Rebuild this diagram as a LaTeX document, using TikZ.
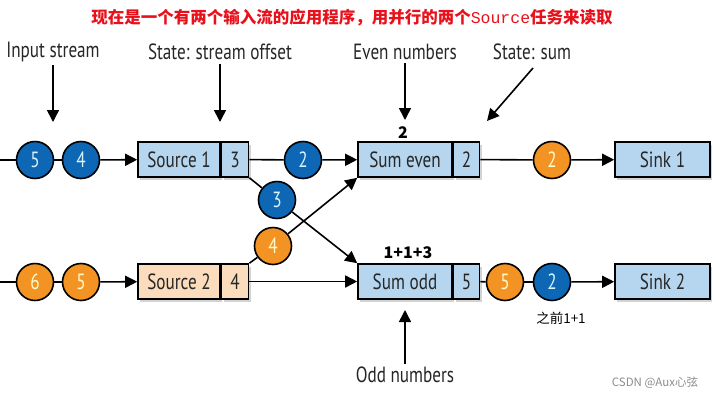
\documentclass[tikz,border=0pt]{standalone}
\usepackage{fontspec}
\setmainfont{Liberation Sans}
\newfontfamily\condfont[FakeStretch=0.78]{PT Sans}
\newfontfamily\cjk{Noto Sans CJK SC}
\newfontfamily\titlemono{Liberation Mono}
\usetikzlibrary{positioning,calc,arrows.meta,shadows}

\definecolor{flowblue}{HTML}{0E67B4}
\definecolor{floworange}{HTML}{F39324}
\definecolor{boxblue}{HTML}{B5D6EE}
\definecolor{boxpeach}{HTML}{FBDDBD}
\definecolor{titlered}{HTML}{E8101A}

\tikzset{
  opbox/.style={draw,line width=1.6pt,fill=boxblue,minimum height=35pt,inner sep=0pt,
    font=\condfont\fontsize{22}{22}\selectfont,text=black!85,
    drop shadow={shadow xshift=2pt,shadow yshift=-3pt,opacity=0.35}},
  evt/.style={circle,draw,line width=1.6pt,minimum size=37pt,inner sep=0pt,
    font=\condfont\fontsize{22}{22}\selectfont},
  blueevt/.style={evt,fill=flowblue,text=cyan!15},
  orangeevt/.style={evt,fill=floworange,text=yellow!20},
  lbl/.style={font=\condfont\fontsize{22}{22}\selectfont,text=black!85},
  flow/.style={line width=1.6pt},
  flowarr/.style={line width=1.6pt,-{Triangle[length=12pt,width=12pt]}},
  note/.style={font=\cjk\bfseries\fontsize{16}{16}\selectfont}
}

\begin{document}
\begin{tikzpicture}[x=1pt,y=-1pt]
\useasboundingbox (0,0) rectangle (724,400);
% title
\node[font=\cjk\bfseries\fontsize{16.5}{16.5}\selectfont,text=titlered] (title) at (352,18)
  {现在是一个有两个输入流的应用程序，用并行的两个{\titlemono\mdseries Source}任务来读取};

% operators
\node[opbox,minimum width=82pt] (src1) at (179,159.5) {Source 1};
\node[opbox,minimum width=27pt,right=0pt of src1] (src1s) {3};
\node[opbox,fill=boxpeach,minimum width=82pt] (src2) at (179,281.5) {Source 2};
\node[opbox,fill=boxpeach,minimum width=27pt,right=0pt of src2] (src2s) {4};
\node[opbox,minimum width=94pt] (even) at (405,159.5) {Sum even};
\node[opbox,minimum width=26pt,right=0pt of even] (evens) {2};
\node[opbox,minimum width=94pt] (odd) at (405,281.5) {Sum odd};
\node[opbox,minimum width=26pt,right=0pt of odd] (odds) {5};
\node[opbox,minimum width=95pt] (sink1) at (662.5,159.5) {Sink 1};
\node[opbox,minimum width=95pt] (sink2) at (662.5,281.5) {Sink 2};

% events
\node[blueevt] (in5) at (35,160) {5};
\node[blueevt] (in4) at (81,160) {4};
\node[orangeevt] (in6) at (35,282) {6};
\node[orangeevt] (in5b) at (81,282) {5};
\node[blueevt] (e2) at (303,160) {2};
\node[blueevt] (e3) at (277,200) {3};
\node[orangeevt] (e4) at (273,246) {4};
\node[orangeevt] (out2) at (552,160) {2};
\node[orangeevt] (out5) at (505,282) {5};
\node[blueevt] (out2b) at (552,282) {2};

% flows
\coordinate (start1) at (0,160);
\coordinate (start2) at (0,282);
\draw[flow] (start1) -- (in5); \draw[flow] (in5) -- (in4); \draw[flowarr] (in4) -- (src1);
\draw[flow] (start2) -- (in6); \draw[flow] (in6) -- (in5b); \draw[flowarr] (in5b) -- (src2);
\draw[flow] (src1s) -- (e2); \draw[flowarr] (e2) -- (even);
\draw[flow] (src1s.south east) -- (e3); \draw[flowarr] (e3) -- (odd.north west);
\draw[flow] (src2s.north east) -- (e4); \draw[flowarr] (e4) -- (even.south west);
\draw[flowarr] (src2s) -- (odd);
\draw[flow] (evens) -- (out2); \draw[flowarr] (out2) -- (sink1);
\draw[flow] (odds) -- (out5); \draw[flow] (out5) -- (out2b); \draw[flowarr] (out2b) -- (sink2);

% labels
\node[lbl] (inlbl) at (53,52) {Input stream};
\node[lbl] (offlbl) at (220,52) {State: stream offset};
\node[lbl] (evenlbl) at (405,52) {Even numbers};
\node[lbl] (sumlbl) at (532,52) {State: sum};
\node[lbl] (oddlbl) at (405,375) {Odd numbers};
\coordinate (intip) at (53,122);
\coordinate (offtip) at (220,122);
\coordinate (eventip) at (405,120);
\coordinate (sumtip) at (487,121);
\coordinate (oddtip) at (405,310);
\draw[flowarr] (inlbl) -- (intip);
\draw[flowarr] (offlbl) -- (offtip);
\draw[flowarr] (evenlbl) -- (eventip);
\draw[flowarr] (533,68) -- (sumtip);
\draw[flowarr] (oddlbl) -- (oddtip);

% notes
\node[note] (evennote) at (403,133) {2};
\node[note] (oddnote) at (408,253) {1+1+3};
\node[font=\cjk\fontsize{13.5}{13.5}\selectfont] (prevnote) at (561,318) {之前1+1};
\node[font=\cjk\fontsize{11.5}{11.5}\selectfont,text=black!45] (mark) at (655,383) {CSDN @Aux心弦};
\end{tikzpicture}
\end{document}
